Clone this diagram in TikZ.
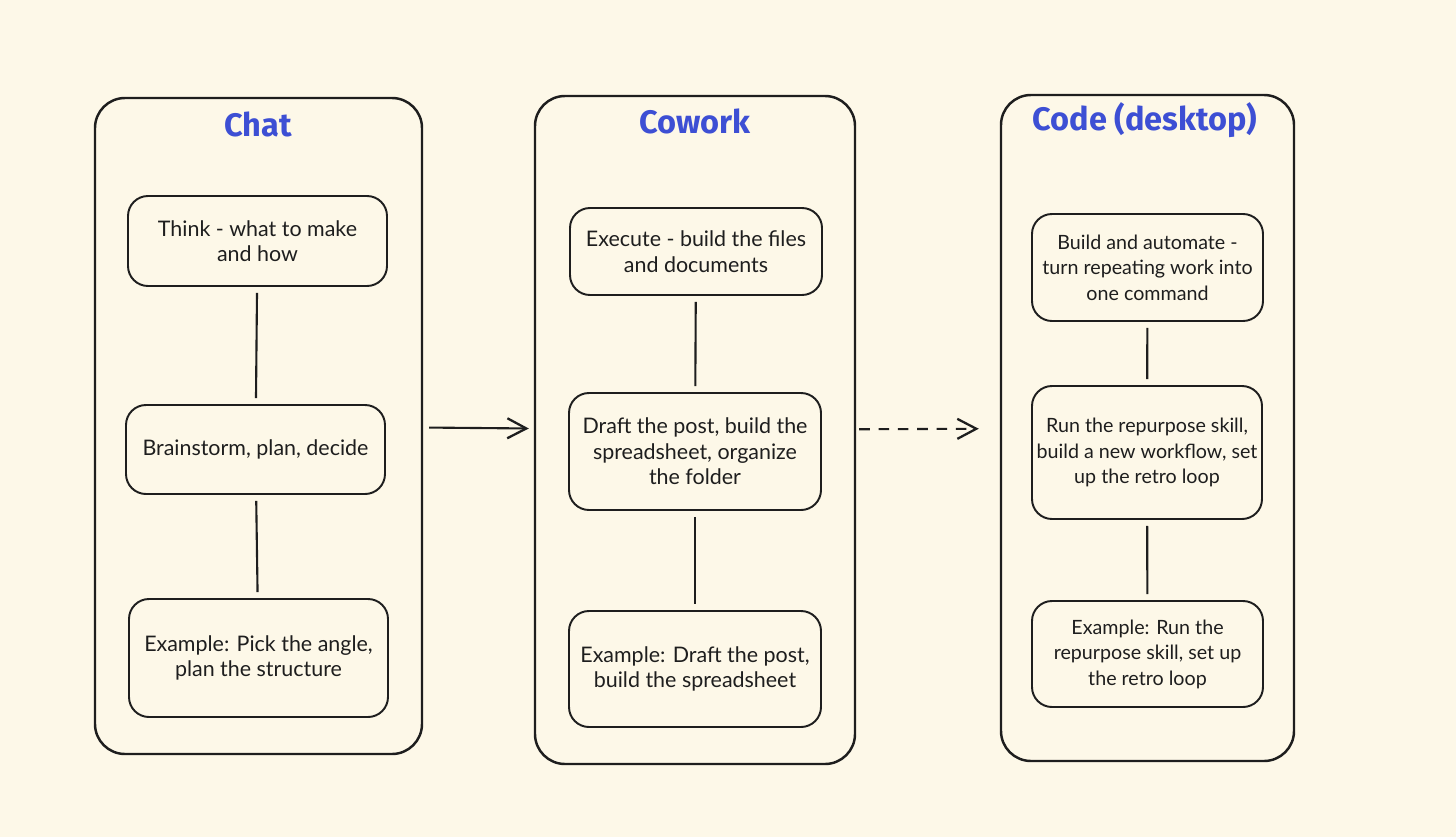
\documentclass[tikz,border=0pt]{standalone}
\usepackage{fontspec}
\setmainfont{Lato}
\newfontfamily\headfont{Fira Sans}
\usepackage{tikz}
\usetikzlibrary{arrows.meta,positioning}

\definecolor{paper}{HTML}{FDF8E8}
\definecolor{ink}{HTML}{1E1E1E}
\definecolor{headblue}{HTML}{3D4FD4}

\begin{document}
\begin{tikzpicture}[
  x=1cm, y=1cm,
  column/.style={draw=ink, line width=1.4pt, rounded corners=0.6cm, minimum width=#1},
  stage/.style={draw=ink, line width=1.1pt, rounded corners=0.4cm, align=center,
    inner xsep=2pt, font=\fontsize{12.2}{14.5}\selectfont, text=ink},
  narrow stage/.style={stage, font=\fontsize{11.2}{14.5}\selectfont},
  heading/.style={font=\headfont\bfseries\fontsize{18.5}{22}\selectfont, text=headblue},
  link/.style={draw=ink, line width=1.2pt, shorten <=0.12cm, shorten >=0.12cm},
  flow/.style={draw=ink, line width=1.2pt, -{Straight Barb[length=0.38cm,width=0.4cm,line width=1.3pt]}}
]
\useasboundingbox[fill=paper] (0,0) rectangle (29.12,-16.74);

% Chat
\node[column=6.54cm, minimum height=13.12cm] (chat) at (5.17,-8.52) {};
\node[heading] (chathead) at (5.16,-2.48) {Chat};
\node[stage, minimum width=5.18cm, minimum height=1.80cm] (think) at (5.15,-4.82)
  {Think - what to make\\and how};
\node[stage, minimum width=5.18cm, minimum height=1.78cm] (brainstorm) at (5.11,-8.99)
  {Brainstorm, plan, decide};
\node[stage, minimum width=5.18cm, minimum height=2.36cm] (chatex) at (5.17,-13.16)
  {Example: Pick the angle,\\plan the structure};
\draw[link] (think) -- (brainstorm);
\draw[link] (brainstorm) -- (chatex);

% Cowork
\node[column=6.40cm, minimum height=13.36cm] (cowork) at (13.90,-8.60) {};
\node[heading] (coworkhead) at (13.90,-2.42) {Cowork};
\node[stage, minimum width=5.04cm, minimum height=1.74cm] (execute) at (13.92,-5.03)
  {Execute - build the files\\and documents};
\node[stage, minimum width=5.04cm, minimum height=2.34cm] (draft) at (13.90,-9.03)
  {Draft the post, build the\\spreadsheet, organize\\the folder};
\node[stage, minimum width=5.04cm, minimum height=2.32cm] (coworkex) at (13.90,-13.38)
  {Example: Draft the post,\\build the spreadsheet};
\draw[link] (execute) -- (draft);
\draw[link] (draft) -- (coworkex);

% Code (desktop)
\node[column=5.86cm, minimum height=13.32cm] (code) at (22.95,-8.56) {};
\node[heading] (codehead) at (22.90,-2.40) {Code (desktop)};
\node[narrow stage, minimum width=4.62cm, minimum height=2.14cm] (automate) at (22.95,-5.35)
  {Build and automate -\\turn repeating work into\\one command};
\node[narrow stage, minimum width=4.60cm, minimum height=2.66cm] (repurpose) at (22.94,-9.05)
  {Run the repurpose skill,\\build a new workflow, set\\up the retro loop};
\node[narrow stage, minimum width=4.62cm, minimum height=2.12cm] (codeex) at (22.95,-13.08)
  {Example: Run the\\repurpose skill, set up\\the retro loop};
\draw[link] (automate) -- (repurpose);
\draw[link] (repurpose) -- (codeex);

% hand-offs between columns
\draw[flow, shorten <=0.12cm, shorten >=0.1cm] (chat) -- (cowork);
\draw[flow, dash pattern=on 6pt off 5pt, shorten <=0.06cm, shorten >=0.42cm] (cowork) -- (code);

\end{tikzpicture}
\end{document}
